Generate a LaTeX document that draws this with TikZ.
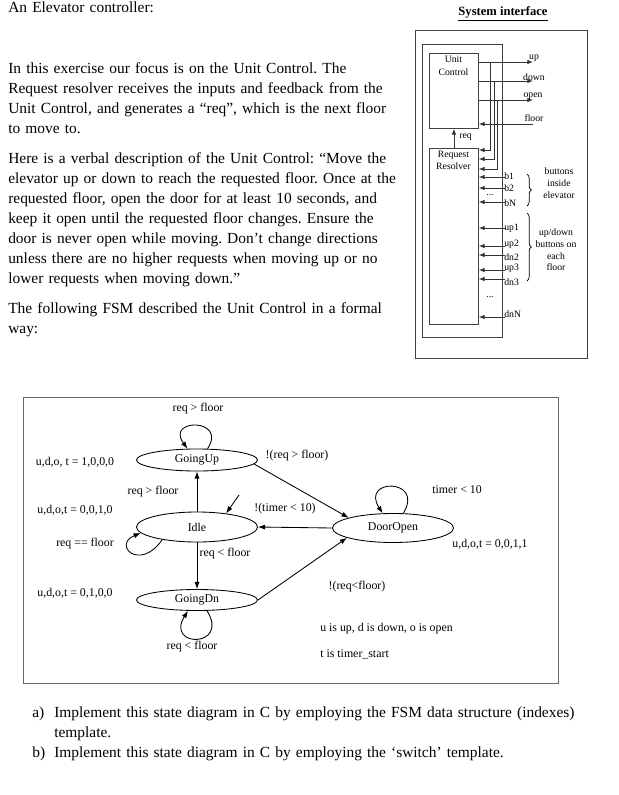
\documentclass[tikz,border=0pt]{standalone}
\usepackage{fontspec}
\setmainfont{Liberation Serif}
\usetikzlibrary{arrows.meta, shapes.geometric, decorations.pathreplacing}
\frenchspacing

\begin{document}
\begin{tikzpicture}[
    x=0.7pt, y=-0.7pt,
    body/.style={anchor=base west, inner sep=0pt, align=left, text width=#1, font=\fontsize{10.8}{14}\selectfont},
    body/.default=300pt,
    blk/.style={draw=black!75, line width=0.6pt, inner sep=0pt, anchor=north west},
    sig/.style={-{Latex[length=4pt,width=3.2pt]}, line width=0.6pt, draw=black!80},
    lbl/.style={inner sep=0pt, font=\fontsize{6.8}{8.6}\selectfont, align=center},
    state/.style={draw, ellipse, line width=0.6pt, inner sep=0pt, minimum width=84.7pt, font=\fontsize{8.3}{10}\selectfont},
    tr/.style={-{Latex[length=5pt,width=3.6pt]}, line width=0.6pt},
    note/.style={inner sep=0pt, font=\fontsize{8.3}{10}\selectfont}
]
\useasboundingbox (0,0) rectangle (619,795);

\node[body] (title) at (8,12.5) {An Elevator controller:};
\node[body] (intro) at (8,73.5) {In this exercise our focus is on the Unit Control. The\\
Request resolver receives the inputs and feedback from the\\
Unit Control, and generates a “req”, which is the next floor\\
to move to.};
\node[body] (verbal) at (8,163.5) {Here is a verbal description of the Unit Control: “Move the\\
elevator up or down to reach the requested floor. Once at the\\
requested floor, open the door for at least 10 seconds, and\\
keep it open until the requested floor changes. Ensure the\\
door is never open while moving. Don’t change directions\\
unless there are no higher requests when moving up or no\\
lower requests when moving down.”};
\node[body] (follow) at (8,313.5) {The following FSM described the Unit Control in a formal\\
way:};

% system interface
\node[inner sep=0pt, font=\fontsize{8.8}{10}\selectfont\bfseries] (sititle) at (503,14) {\underline{System interface}};
\node[blk, minimum width=120.4pt, minimum height=229.6pt] (sys) at (415,30) {};
\node[blk, minimum width=56pt, minimum height=205.1pt] (sub) at (422,44) {};
\node[blk, minimum width=34.3pt, minimum height=52.5pt] (uc) at (429,53) {};
\node[lbl, anchor=north] (uctext) at (453.5,56) {Unit\\Control};
\node[blk, minimum width=34.3pt, minimum height=123.2pt] (rr) at (429,148) {};
\node[lbl, anchor=north] (rrtext) at (453.5,151) {Request\\Resolver};
\draw[sig] (rr.north) -- (uc.south);
\node[lbl, anchor=west] (reqlbl) at (459,137) {req};

\coordinate (oup) at (533,62);
\coordinate (odown) at (533,81);
\coordinate (oopen) at (533,100);
\coordinate (ifloor) at (533,124);
\draw[sig] (uc.east |- oup) -- (oup);
\draw[sig] (uc.east |- odown) -- (odown);
\draw[sig] (uc.east |- oopen) -- (oopen);
\draw[sig] (ifloor) -- (uc.east |- ifloor);
\node[lbl] (uplbl) at (534,58) {up};
\node[lbl] (downlbl) at (534,77) {down};
\node[lbl] (openlbl) at (533,96) {open};
\node[lbl] (floorlbl) at (534,118) {floor};

\foreach \src/\bx/\ty in {oup/490/150, odown/494/159, oopen/497/169}
    \draw[sig] (\src -| \bx,0) |- (rr.east |- 0,\ty);

\foreach \nm/\ly/\ty in {b1/177/176, b2/188/188, bN/202/203, up1/228/228, up2/246/244, dn2/255/257, up3/270/268, dn3/279/282, dnN/317/314} {
    \coordinate (in-\nm) at (505,\ly);
    \draw[sig] (in-\nm) -- (rr.east |- in-\nm);
    \node[lbl, anchor=west] (lbl-\nm) at (504,\ty) {\nm};
}
\node[lbl] (bdots) at (490,195) {...};
\node[lbl] (fdots) at (490,297) {...};

\draw[decorate, decoration={brace, amplitude=3pt}, line width=0.5pt] (527,174) -- (527,206);
\node[lbl] (btext) at (559,183) {buttons\\inside\\elevator};
\draw[decorate, decoration={brace, amplitude=3pt}, line width=0.5pt] (527,213) -- (527,281);
\node[lbl, font=\fontsize{6.8}{8.2}\selectfont] (ftext) at (556,250) {up/down\\buttons on\\each\\floor};

% state machine
\node[draw=black!60, line width=0.7pt, anchor=north west, inner sep=0pt, minimum width=374.5pt, minimum height=200.2pt] (fsm) at (23,397) {};

\node[state, minimum height=15.4pt] (GoingUp) at (197,460) {GoingUp};
\node[state, minimum height=21pt] (Idle) at (197,527) {Idle};
\node[state, minimum height=14.7pt] (GoingDn) at (197,600) {GoingDn};
\node[state, minimum height=20.3pt] (DoorOpen) at (393,528) {DoorOpen};

\draw[tr] (Idle) -- (GoingUp);
\draw[tr] (Idle) -- (GoingDn);
\draw[tr] (GoingUp.-4) -- (DoorOpen.167);
\draw[tr] (DoorOpen.west) -- (Idle.east);
\draw[tr] (GoingDn.east) -- (DoorOpen.192);
\coordinate (start) at (239,495);
\draw[tr] (start) -- (Idle.25);
\draw[tr] (GoingUp.47) .. controls (228,418) and (165,418) .. (GoingUp.130);
\draw[tr] (GoingDn.-47) .. controls (230,648) and (165,648) .. (GoingDn.-130);
\draw[tr] (Idle.200) .. controls (140,572) and (112,545) .. (Idle.186);
\draw[tr] (DoorOpen.55) .. controls (425,478) and (360,478) .. (DoorOpen.125);

\node[note] (lUpSelf) at (198,409) {req > floor};
\node[note] (lIdleUp) at (153,492) {req > floor};
\node[note] (lIdleSelf) at (85,544) {req == floor};
\node[note] (lIdleDn) at (225,554) {req < floor};
\node[note] (lDnSelf) at (192,647) {req < floor};
\node[note] (lUpDoor) at (297,456) {!(req > floor)};
\node[note] (lDoorIdle) at (285,509) {!(timer < 10)};
\node[note] (lDnDoor) at (357,587) {!(req<floor)};
\node[note] (lDoorSelf) at (457,490) {timer < 10};

\node[note] (oUp) at (75,462) {u,d,o, t = 1,0,0,0};
\node[note] (oIdle) at (75,510) {u,d,o,t = 0,0,1,0};
\node[note] (oDn) at (75,593) {u,d,o,t = 0,1,0,0};
\node[note] (oDoor) at (490,544) {u,d,o,t = 0,0,1,1};
\node[note, anchor=west] (key1) at (320,629) {u is up, d is down, o is open};
\node[note, anchor=west] (key2) at (320,654) {t is timer\_start};

% questions
\node[body] (qa) at (32,717.5) {a)};
\node[body=420pt] (qatext) at (54,717.5) {Implement this state diagram in C by employing the FSM data structure (indexes)\\
template.};
\node[body] (qb) at (32,757.5) {b)};
\node[body=420pt] (qbtext) at (54,757.5) {Implement this state diagram in C by employing the ‘switch’ template.};
\end{tikzpicture}
\end{document}
